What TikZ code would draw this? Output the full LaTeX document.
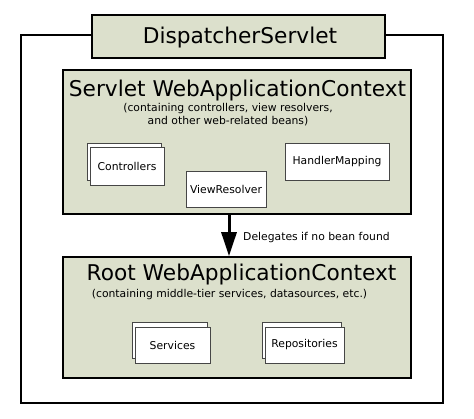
\documentclass[tikz,border=0pt]{standalone}
\usepackage{fontspec}
\setmainfont{DejaVu Sans}
\usetikzlibrary{arrows.meta}
\definecolor{ctxfill}{RGB}{220,224,204}
\definecolor{beanline}{RGB}{70,70,70}
\tikzset{
    ctxbox/.style={draw=black,line width=1.6pt,fill=ctxfill,inner sep=0pt},
    beanbox/.style={draw=beanline,line width=0.9pt,fill=white,inner sep=0pt,font=\fontsize{10.8}{13}\selectfont},
    small/.style={font=\fontsize{10.8}{13}\selectfont,inner sep=0pt},
    big/.style={font=\fontsize{21.7}{26}\selectfont,inner sep=0pt},
}
\begin{document}
\begin{tikzpicture}[x=1pt,y=-1pt]
    \useasboundingbox (0,0) rectangle (474,418);
    % outer frame
    \draw[line width=1.4pt] (21,35) rectangle (443,403);
    \node[ctxbox,minimum width=293pt,minimum height=43pt] (ds) at (238.5,36.5) {};
    \node[big,anchor=base] at (240,43) {DispatcherServlet};
    % servlet context
    \node[ctxbox,minimum width=348pt,minimum height=144pt] (swac) at (237,142) {};
    \node[big,anchor=base] at (237.5,96.5) {Servlet WebApplicationContext};
    \node[small,anchor=base] at (228,111) {(containing controllers, view resolvers,};
    \node[small,anchor=base] at (228,124) {and other web-related beans)};
    \node[beanbox,minimum width=74pt,minimum height=37pt] at (124,162) {};
    \node[beanbox,minimum width=74pt,minimum height=38pt] (ctrl) at (127,166) {Controllers};
    \node[beanbox,minimum width=80pt,minimum height=36pt] (vr) at (226,189) {ViewResolver};
    \node[beanbox,minimum width=104pt,minimum height=37pt] (hm) at (337,161.5) {HandlerMapping};
    % root context
    \node[ctxbox,minimum width=348pt,minimum height=121pt] (root) at (237,317.5) {};
    \node[big,anchor=base] at (241.5,280.5) {Root WebApplicationContext};
    \node[small,anchor=base] at (229.5,297.5) {(containing middle-tier services, datasources, etc.)};
    \node[beanbox,minimum width=75pt,minimum height=36pt] at (169.5,340) {};
    \node[beanbox,minimum width=75pt,minimum height=36pt] (svc) at (172.5,345) {Services};
    \node[beanbox,minimum width=79pt,minimum height=36pt] at (301.5,340) {};
    \node[beanbox,minimum width=79pt,minimum height=36pt] (repo) at (304.5,345) {Repositories};
    % delegation
    \draw[line width=3pt,-{Triangle[length=24pt,width=15pt]}] ([xshift=-8pt]swac.south) -- ([xshift=-8pt]root.north);
    \node[small,anchor=base west] at (243,240) {Delegates if no bean found};
\end{tikzpicture}
\end{document}
